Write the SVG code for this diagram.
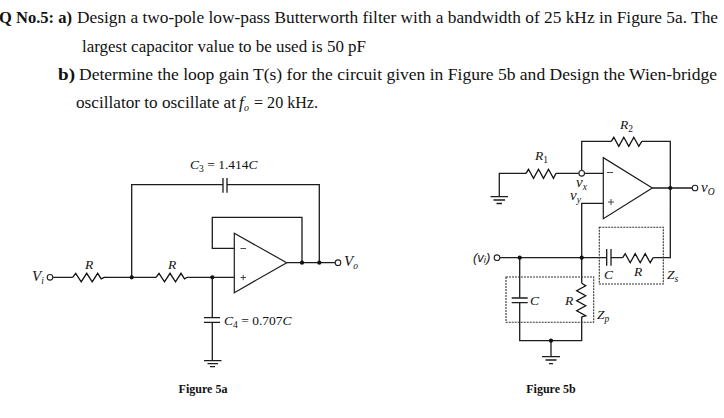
<svg xmlns="http://www.w3.org/2000/svg" width="724" height="418" viewBox="0 0 724 418">
<style>
text{font-family:"Liberation Serif","Times New Roman",serif;fill:#111}
.q{font-size:17px}
.b{font-weight:bold}
.i{font-style:italic}
.l{font-size:13.5px}
.v{font-size:15px}
.s{font-size:9.5px}
.f{font-size:12px;font-weight:bold;text-anchor:middle}
.w{fill:none;stroke:#1c1c1c;stroke-width:1.3}
.m{fill:none;stroke:#333;stroke-width:.9}
.z{fill:none;stroke:#111;stroke-width:1.3;stroke-linejoin:miter}
.a{fill:#fff;stroke:#1c1c1c;stroke-width:1.2}
.t{fill:#fff;stroke:#222;stroke-width:1.1}
.d{fill:#111;stroke:none}
.x{fill:none;stroke:#333;stroke-width:1.1;stroke-dasharray:2 1}
.o{font-size:13px;font-family:"Liberation Sans",Arial,sans-serif;font-style:italic;fill:#222}
</style>
<rect width="724" height="418" fill="#fff"/>
<g id="question">
<text class="q b" x="-1" y="23" textLength="73" lengthAdjust="spacingAndGlyphs">Q No.5: a)</text>
<text class="q" x="77" y="23" textLength="641" lengthAdjust="spacingAndGlyphs">Design a two-pole low-pass Butterworth filter with a bandwidth of 25 kHz in Figure 5a. The</text>
<text class="q" x="82" y="52" textLength="284" lengthAdjust="spacingAndGlyphs">largest capacitor value to be used is 50 pF</text>
<text class="q b" x="58" y="80" textLength="17" lengthAdjust="spacingAndGlyphs">b)</text>
<text class="q" x="79" y="80" textLength="638" lengthAdjust="spacingAndGlyphs">Determine the loop gain T(s) for the circuit given in Figure 5b and Design the Wien-bridge</text>
<text class="q" x="76" y="108" textLength="160" lengthAdjust="spacingAndGlyphs">oscillator to oscillate at</text>
<text class="q i" x="239" y="108">f</text>
<text class="i" x="244" y="111" style="font-size:10px">o</text>
<text class="q" x="254" y="108" textLength="64" lengthAdjust="spacingAndGlyphs">= 20 kHz.</text>
</g>
<g id="connectors">
<path class="w" d="M53 277.3H72.7M106 277.3H156M188.7 277.3H234.3M131.7 277.3V184.7H223M227 184.7H319.3V262.7M234.3 248.3H212.3V217.3H302V262.7M286.7 262.7H335M212.3 277.3V317.7M212.3 322.3V360.7"/>
<path class="w" d="M499.3 196.7V173.3H526M556 173.3H579M584.5 173.3H603.3M581.7 170.5V141.3H611.3M641.7 141.3H670.3V257.7H653.3M652.3 188H692M603.3 203.3H581.7V283.3M581.7 316.7V340.7H519.7V302.7M519.7 298V257.7M500 257.7H606.7M611 257.7H622.7M551 340.7V356.7"/>
</g>
<g id="opamp-a"><path class="a" d="M234.3 233.3V292.7L286.7 262.7Z"/><path class="m" d="M240.5 248.5H246M240.5 277.5H246M243.2 274.8V280.2"/></g>
<g id="r1-a"><path class="z" d="M72.7 277.3l3 -4 5.5 8.5 5.5 -8.5 5.5 8.5 5.5 -8.5 3.5 5.5 3 -1.5 2.3 0"/><text class="l i" x="85" y="269">R</text></g>
<g id="r2-a"><path class="z" d="M156 277.3l3 -4 5.5 8.5 5.5 -8.5 5.5 8.5 5.5 -8.5 3.5 5.5 2.7 -1.5 1.5 0"/><text class="l i" x="168" y="269">R</text></g>
<g id="c3"><path class="w" d="M223 178V192.7M227 178V192.7"/><text class="l" x="190" y="169"><tspan class="i">C</tspan><tspan class="s" dy="3">3</tspan><tspan dy="-3"> = 1.414</tspan><tspan class="i">C</tspan></text></g>
<g id="c4"><path class="w" d="M204 317.7H220M204 322.3H220"/><text class="l" x="224" y="325"><tspan class="i">C</tspan><tspan class="s" dy="3">4</tspan><tspan dy="-3"> = 0.707</tspan><tspan class="i">C</tspan></text></g>
<g id="gnd-a"><path class="w" d="M204 360.7H221.5M207.5 363.7H218M210 366.7H215"/></g>
<g id="nodes-a"><circle class="d" cx="131.7" cy="277.3" r="2.1"/><circle class="d" cx="212.3" cy="277.3" r="2.1"/><circle class="d" cx="302" cy="262.7" r="2.1"/><circle class="d" cx="319.3" cy="262.7" r="2.1"/></g>
<g id="vi"><circle class="t" cx="50" cy="277.3" r="2.8"/><text class="v i" x="32" y="281">V<tspan class="s" dy="3">i</tspan></text></g>
<g id="vo-a"><circle class="t" cx="338" cy="262.7" r="2.8"/><text class="v i" x="344" y="266">V<tspan class="s" dy="3">o</tspan></text></g>
<text class="f" x="203" y="393">Figure 5a</text>

<g id="opamp-b"><path class="a" d="M603.3 157.7V218.7L652.3 188Z"/><path class="m" d="M607 172.5H613M608 202H614M611 199V205"/></g>
<g id="r1-b"><path class="z" d="M526 173.3l2.5 -4 5 9 5 -9 5 9 5 -9 5 9 2.5 -5"/><text class="l i" x="535" y="160">R<tspan class="s" dy="3" font-style="normal">1</tspan></text></g>
<g id="r2-b"><path class="z" d="M611.3 141.3l2.5 -4 5 9 5 -9 5 9 5 -9 5 9 3 -5"/><text class="l i" x="620" y="129">R<tspan class="s" dy="3" font-style="normal">2</tspan></text></g>
<g id="vx"><circle class="t" cx="581.7" cy="173.3" r="2.8"/><text class="v i" x="576" y="187">v<tspan class="s" dy="3">x</tspan></text></g>
<text class="v i" x="570" y="200">v<tspan class="s" dy="3">y</tspan></text>
<g id="vo-b"><circle class="t" cx="695" cy="188" r="2.8"/><text class="v i" x="701" y="192">v<tspan class="s" dy="3">O</tspan></text></g>
<g id="vi-b"><circle class="t" cx="497" cy="257.7" r="2.8"/><text class="o" x="473" y="262">(v<tspan class="s" dy="1">i</tspan><tspan dy="-1">)</tspan></text></g>
<g id="gnd-b1"><path class="w" d="M490.5 196.7H508M493.5 200H505M496.5 203.5H502"/></g>
<g id="gnd-b2"><path class="w" d="M542 356.7H560M545.5 360H556.5M549 363.7H553"/></g>
<g id="nodes-b"><circle class="d" cx="670.3" cy="188" r="2.1"/><circle class="d" cx="519.7" cy="257.7" r="2.1"/><circle class="d" cx="581.7" cy="257.7" r="2.1"/><circle class="d" cx="551" cy="340.7" r="2.1"/></g>
<g id="zs"><rect class="x" x="599.3" y="227.3" width="64" height="56.7"/>
<path class="w" d="M606.7 249V265.7M611 249V265.7"/>
<path class="z" d="M622.7 257.7l2.5 -4 5 9 5 -9 5 9 5 -9 5 9 3 -5"/>
<text class="l i" x="604" y="279">C</text><text class="l i" x="634" y="276">R</text>
<text class="l i" x="667" y="279">Z<tspan class="s" dy="3">s</tspan></text></g>
<g id="zp"><rect class="x" x="506" y="277" width="87.7" height="45.3"/>
<path class="w" d="M511.7 298H527.7M511.7 302.7H527.7"/>
<path class="z" d="M581.7 283.3l4 2.5 -9 5 9 5 -9 5 9 5 -9 5 9 5 -4 1"/>
<text class="l i" x="530" y="305">C</text><text class="l i" x="565" y="305">R</text>
<text class="l i" x="597" y="319">Z<tspan class="s" dy="3">p</tspan></text></g>
<text class="f" x="551" y="393">Figure 5b</text>
</svg>
